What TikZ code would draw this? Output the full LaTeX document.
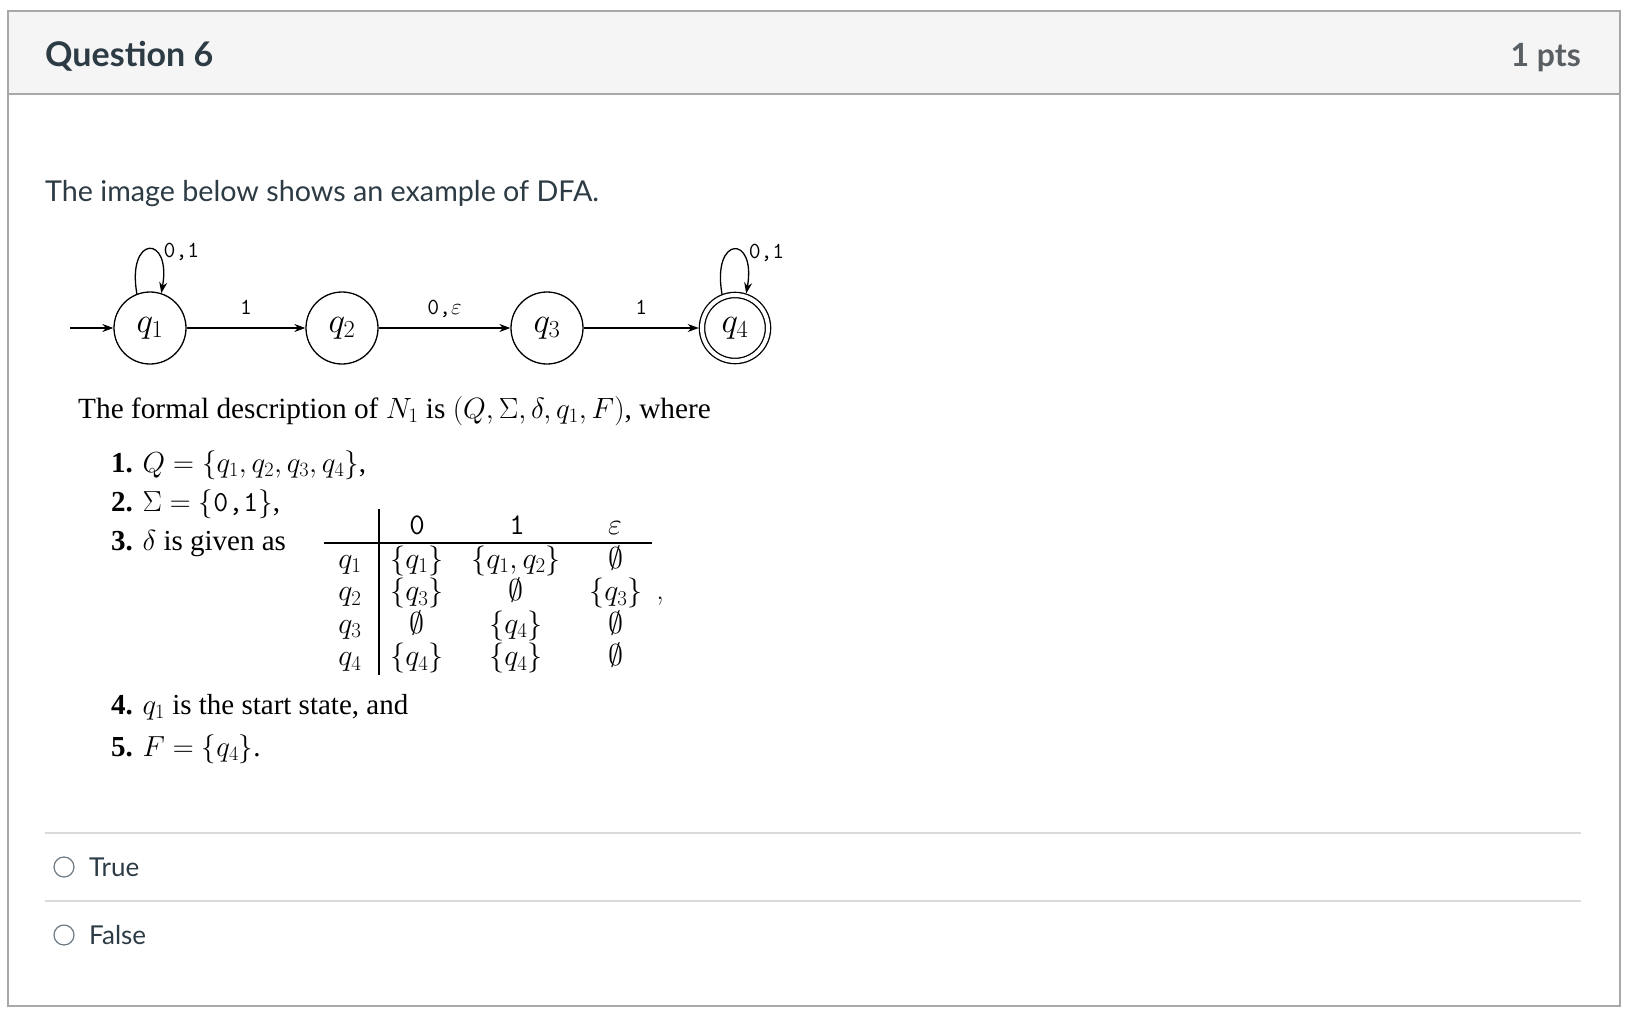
\documentclass[tikz,border=0pt]{standalone}
\usepackage{fix-cm}
\usepackage{fontspec}
\newfontfamily\lato{Lato}
\newfontfamily\bookfont{Liberation Serif}
\usetikzlibrary{arrows.meta}

\definecolor{canvastext}{HTML}{2D3B45}
\definecolor{ptsgray}{HTML}{5A5F63}
\definecolor{framegray}{HTML}{A8A8A8}
\definecolor{rulegray}{HTML}{DADADA}
\definecolor{headfill}{HTML}{F5F5F5}
\definecolor{radiogray}{HTML}{6F7B83}

\tikzset{
	state/.style={draw, circle, line width=1.3pt, minimum size=72pt, inner sep=0pt,
		font=\fontsize{35}{37}\selectfont},
	final/.style={state, minimum size=66pt, double, double distance=4pt, outer sep=3.3pt},
	trans/.style={line width=1.3pt, -{Stealth[length=11pt,width=8pt]}},
	edgelabel/.style={font=\fontsize{23}{25}\selectfont\ttfamily, inner sep=0pt},
	bookline/.style={anchor=base west, inner sep=0pt, font=\bookfont\fontsize{29}{34}\selectfont},
	cell/.style={anchor=base, inner sep=0pt, text height=21pt, text depth=7pt,
		font=\fontsize{30}{32}\selectfont},
	latotext/.style={anchor=base west, inner sep=0pt, text=canvastext, font=\lato\fontsize{26}{30}\selectfont},
	radio/.style={draw=radiogray, circle, line width=1.2pt, minimum size=20pt, inner sep=0pt}
}

\begin{document}
\begin{tikzpicture}[x=1pt,y=-1pt]
	\useasboundingbox[fill=white] (0,0) rectangle (1628,1020);
	
	% card and header
	\draw[framegray, line width=1.5pt, fill=white] (8,11) rectangle (1620,1006);
	\fill[headfill] (8.75,11.75) rectangle (1619.25,94);
	\draw[framegray, line width=1.5pt] (8,94) -- (1620,94);
	\node[anchor=base west, inner sep=0pt, text=canvastext,
	font=\lato\bfseries\fontsize{34}{40}\selectfont] (title) at (45,66) {Question 6};
	\node[anchor=base east, inner sep=0pt, text=ptsgray,
	font=\lato\bfseries\fontsize{32}{40}\selectfont] (points) at (1581,66) {1 pts};
	
	\node[latotext, font=\lato\fontsize{28.7}{32}\selectfont] (intro) at (45,201)
	{The image below shows an example of DFA.};
	
	% the automaton
	\node [state] (q1) at (150,328) {$q_1$};
	\node [state] (q2) at (342,328) {$q_2$};
	\node [state] (q3) at (547,328) {$q_3$};
	\node [final] (q4) at (735,328) {$q_4$};
	\coordinate (start) at (70,328);
	
	\draw [trans] (start) -- (q1);
	\draw [trans] (q1) -- node[edgelabel, midway, anchor=base, yshift=13.5pt] (l12) {1} (q2);
	\draw [trans] (q2) -- node[edgelabel, midway, anchor=base, yshift=13.5pt] (l23) {0,$\varepsilon$} (q3);
	\draw [trans] (q3) -- node[edgelabel, midway, anchor=base, yshift=13.5pt] (l34) {1} (q4);
	\draw [trans] (q1.111) .. controls +(-100:60) and +(-80:60) ..
	node[edgelabel, pos=0.5, anchor=west, xshift=14pt, yshift=-3pt] (l11) {0,1} (q1.72);
	\draw [trans] (q4.111) .. controls +(-100:60) and +(-80:60) ..
	node[edgelabel, pos=0.5, anchor=west, xshift=14pt, yshift=-3pt] (l44) {0,1} (q4.72);
	
	% formal description
	\node[bookline, font=\bookfont\fontsize{29.3}{34}\selectfont] (desc) at (78,418)
	{The formal description of $N_1$ is $(Q,\Sigma,\delta,q_1,F)$, where};
	\node[bookline] (item1) at (111,472) {\textbf{1.} $Q=\{q_1,q_2,q_3,q_4\}$,};
	\node[bookline] (item2) at (111,511) {\textbf{2.} $\Sigma=\{\texttt{0,1}\}$,};
	\node[bookline] (item3) at (111,550) {\textbf{3.} $\delta$ is given as};
	\node[bookline] (item4) at (111,714) {\textbf{4.} $q_1$ is the start state, and};
	\node[bookline] (item5) at (111,756) {\textbf{5.} $F=\{q_4\}$.};
	
	% transition table
	\draw[line width=1.3pt] (379,509) -- (379,675);
	\draw[line width=1.3pt] (324,543) -- (652,543);
	\node[cell] (h0) at (417,534) {\texttt{0}};
	\node[cell] (h1) at (517,534) {\texttt{1}};
	\node[cell] (he) at (615,534) {$\varepsilon$};
	\foreach \y/\st/\za/\on/\ep [count=\i] in {
		568/q_1/{\{q_1\}}/{\{q_1,q_2\}}/\emptyset,
		600.5/q_2/{\{q_3\}}/\emptyset/{\{q_3\}},
		633/q_3/\emptyset/{\{q_4\}}/\emptyset,
		665.5/q_4/{\{q_4\}}/{\{q_4\}}/\emptyset}{
		\node[cell] (s\i) at (350,\y) {$\st$};
		\node[cell] (a\i) at (417,\y) {$\za$};
		\node[cell] (b\i) at (516,\y) {$\on$};
		\node[cell] (e\i) at (616,\y) {$\ep$};
	}
	\node[cell] (tabcomma) at (660,599) {,};
	
	% answers
	\draw[rulegray, line width=1.2pt] (45,833) -- (1581,833);
	\draw[rulegray, line width=1.2pt] (45,901) -- (1581,901);
	\node[radio] (r1) at (64,867) {};
	\node[latotext, anchor=west] (ans1) at (89,867) {True};
	\node[radio] (r2) at (64,935) {};
	\node[latotext, anchor=west] (ans2) at (89,935) {False};
\end{tikzpicture}
\end{document}
